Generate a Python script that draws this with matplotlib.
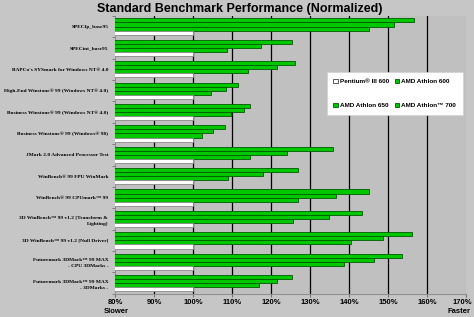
import matplotlib
matplotlib.use("Agg")
import matplotlib.pyplot as plt
import numpy as np
from matplotlib.patches import Patch

categories = [
    "SPECfp_base95",
    "SPECint_base95",
    "BAPCo's SYSmark for Windows NT® 4.0",
    "High-End Winstone® 99 (Windows NT® 4.0)",
    "Business Winstone® 99 (Windows NT® 4.0)",
    "Business Winstone® 99 (Windows® 98)",
    "JMark 2.0 Advanced Processor Test",
    "WinBench® 99 FPU WinMark",
    "WinBench® 99 CPUmark™ 99",
    "3D WinBench™ 99 v1.2 [Transform &\nLighting]",
    "3D WinBench™ 99 v1.2 [Null Driver]",
    "Futuremark 3DMark™ 99 MAX\n- CPU 3DMarks -",
    "Futuremark 3DMark™ 99 MAX\n- 3DMarks -",
]
pentium600 = [100] * 13
athlon600 = [145.0, 108.6, 114.2, 104.7, 109.6, 102.4, 114.7, 109.0, 127.0, 125.5, 140.4, 138.8, 117.0]
athlon650 = [151.5, 117.4, 121.4, 108.4, 113.1, 105.0, 124.1, 118.0, 136.7, 134.9, 148.8, 146.5, 121.5]
athlon700 = [156.8, 125.3, 126.2, 111.6, 114.7, 108.3, 135.8, 126.9, 145.0, 143.3, 156.2, 153.7, 125.4]
series_names = ["Pentium® III 600", "AMD Athlon 600", "AMD Athlon 650", "AMD Athlon™ 700"]
xticks = [80, 90, 100, 110, 120, 130, 140, 150, 160, 170]
xticklabels = ["80%", "90%", "100%", "110%", "120%", "130%", "140%", "150%", "160%", "170%"]

fig = plt.figure(figsize=(4.74, 3.17), dpi=100, facecolor="#c6c6c6")
ax = fig.add_axes([0.243, 0.073, 0.740, 0.877])
ax.set_facecolor("#c0c0c0")

n = len(categories)
ypos = np.arange(n)
h = 0.19
green = "#00c800"
edge = "#005a00"
# order within group top->bottom: 700, 650, 600, Pentium
series = [athlon700, athlon650, athlon600, pentium600]
offsets = [-1.5 * h, -0.5 * h, 0.5 * h, 1.5 * h]
for vals, off, idx in zip(series, offsets, range(4)):
    if idx == 3:
        ax.barh(ypos + off, vals, height=h, color="white", edgecolor="#8a8a8a", linewidth=0.6, zorder=3)
    else:
        ax.barh(ypos + off, vals, height=h, color=green, edgecolor=edge, linewidth=0.6, zorder=3)

ax.set_xlim(80, 170)
ax.set_ylim(n - 0.5, -0.5)
for x in xticks[1:-1]:
    ax.axvline(x, color="black", lw=0.9, zorder=1)
ax.axvline(170, color="#a0a0a0", lw=0.8, zorder=1)

ax.set_xticks(xticks)
ax.set_xticklabels(xticklabels[:-1] + [""], fontsize=5.5, fontweight="bold", family="Liberation Sans")
ax.set_yticks(ypos)
ax.set_yticklabels(categories, fontsize=3.9, fontweight="bold", family="Liberation Serif", linespacing=1.7)
ax.set_yticks(np.arange(n + 1) - 0.5, minor=True)
ax.tick_params(axis="y", which="major", length=0, pad=5)
ax.tick_params(axis="y", which="minor", length=2, color="#707070")
ax.tick_params(axis="x", length=2, color="#707070", pad=2)
for s in ["top", "right"]:
    ax.spines[s].set_visible(False)
for s in ["left", "bottom"]:
    ax.spines[s].set_color("#909090")
    ax.spines[s].set_linewidth(0.8)

# last tick label placed so it stays inside the figure
fig.text(0.997, 0.040, xticklabels[-1], fontsize=5.5, fontweight="bold", family="Liberation Sans", ha="right")
fig.text(0.245, 0.012, "Slower", fontsize=5.5, fontweight="bold", family="Liberation Sans", ha="center")
fig.text(0.993, 0.012, "Faster", fontsize=5.5, fontweight="bold", family="Liberation Sans", ha="right")

fig.suptitle("Standard Benchmark Performance (Normalized)", fontsize=9, fontweight="bold",
             family="Liberation Sans", x=0.506, y=0.99, va="top")

p3 = Patch(facecolor="white", edgecolor="#404040", lw=0.6, label=series_names[0])
a600 = Patch(facecolor=green, edgecolor=edge, lw=0.6, label=series_names[1])
a650 = Patch(facecolor=green, edgecolor=edge, lw=0.6, label=series_names[2])
a700 = Patch(facecolor=green, edgecolor=edge, lw=0.6, label=series_names[3])
# column-major filling: col1 = Pentium, 650 ; col2 = 600, 700
leg = ax.legend(handles=[p3, a650, a600, a700], ncol=2, loc="upper left", bbox_to_anchor=(0.603, 0.797),
                prop={"family": "Liberation Sans", "weight": "bold", "size": 4.6},
                frameon=True, fancybox=False, framealpha=1, edgecolor="#d0d0d0",
                handlelength=0.75, handleheight=0.75, handletextpad=0.3, columnspacing=0.9,
                labelspacing=2.9, borderpad=1.0, borderaxespad=0)
leg.get_frame().set_linewidth(0.5)
leg.set_zorder(5)

fig.savefig("out.png", dpi=100, facecolor=fig.get_facecolor())
